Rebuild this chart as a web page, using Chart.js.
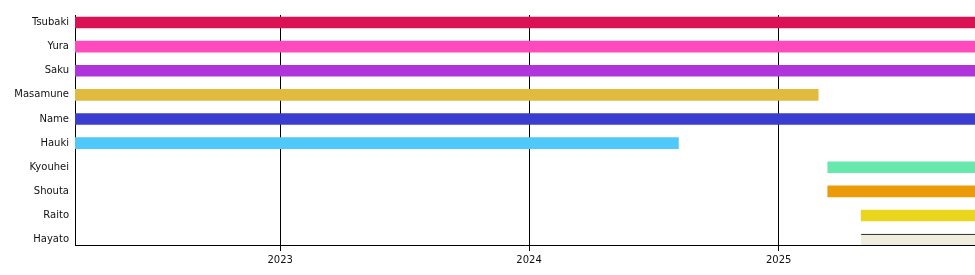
<!DOCTYPE html>
<html>
<head>
<meta charset="utf-8">
<script src="https://cdn.jsdelivr.net/npm/chart.js@4"></script>
<style>
    html, body { margin: 0; padding: 0; background: #fff; }
    #wrap { position: relative; width: 975px; height: 275px; }
</style>
</head>
<body>
<div id="wrap"><canvas id="timeline"></canvas></div>
<script>
    // ---- data ----
    var names = ['Tsubaki', 'Yura', 'Saku', 'Masamune', 'Name', 'Hauki', 'Kyouhei', 'Shouta', 'Raito', 'Hayato'];
    var starts = ['2022-03-06', '2022-03-06', '2022-03-06', '2022-03-06', '2022-03-06', '2022-03-06',
                  '2025-03-14', '2025-03-14', '2025-05-02', '2025-05-02'];
    var ends = ['2025-10-16', '2025-10-16', '2025-10-16', '2025-02-28', '2025-10-16', '2024-08-07',
                '2025-10-16', '2025-10-16', '2025-10-16', '2025-10-16'];
    var colors = ['#dc1055', '#ff4abd', '#b034dc', '#e0bb3f', '#3b3dd0', '#50c9fa',
                  '#69e8ae', '#eb9b08', '#ead61c', '#f0edde'];
    var tickYears = ['2023', '2024', '2025'];
    var rangeStart = '2022-03-06';
    var rangeEnd = '2025-10-16';

    var FONT = { family: 'DejaVu Sans', size: 10 };

    var rows = names.map(function (n, i) {
        return { x: [Date.parse(starts[i]), Date.parse(ends[i])], y: i };
    });

    new Chart(document.getElementById('timeline'), {
        type: 'bar',
        data: {
            datasets: [{
                data: rows,
                backgroundColor: colors,
                borderColor: '#000',
                borderWidth: function (ctx) {
                    return names[ctx.dataIndex] === 'Hayato' ? { top: 1, left: 0, right: 0, bottom: 0 } : 0;
                },
                borderSkipped: false,
                barThickness: 11
            }]
        },
        options: {
            indexAxis: 'y',
            responsive: true,
            maintainAspectRatio: false,
            animation: false,
            layout: { padding: { top: 15, right: 0, left: 0, bottom: 0 } },
            scales: {
                x: {
                    type: 'linear',
                    min: Date.parse(rangeStart),
                    max: Date.parse(rangeEnd),
                    afterBuildTicks: function (axis) {
                        axis.ticks = tickYears.map(function (y) { return { value: Date.parse(y + '-01-01') }; });
                    },
                    afterFit: function (axis) { axis.height = 30; },
                    ticks: {
                        font: FONT,
                        color: '#111',
                        padding: 3,
                        maxRotation: 0,
                        callback: function (v) { return new Date(v).getUTCFullYear().toString(); }
                    },
                    grid: { color: '#000', lineWidth: 1, tickLength: 6, drawOnChartArea: true },
                    border: { display: true, color: '#000', width: 1 }
                },
                y: {
                    type: 'linear',
                    reverse: true,
                    offset: false,
                    min: -0.311,
                    max: 9.224,
                    afterBuildTicks: function (axis) {
                        axis.ticks = names.map(function (n, i) { return { value: i }; });
                    },
                    afterFit: function (axis) { axis.width = 75; },
                    ticks: {
                        font: FONT,
                        color: '#111',
                        padding: 6,
                        callback: function (v) { return names[v]; }
                    },
                    grid: { display: false, drawTicks: false },
                    border: { display: true, color: '#000', width: 1 }
                }
            },
            plugins: {
                legend: { display: false },
                tooltip: { enabled: false }
            }
        }
    });
</script>
</body>
</html>
